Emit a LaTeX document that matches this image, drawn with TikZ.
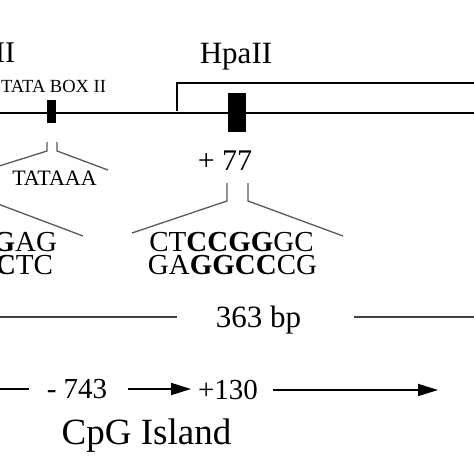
\documentclass[tikz,border=0pt]{standalone}
\usepackage{fontspec}
\setmainfont{Liberation Serif}
\usetikzlibrary{arrows.meta}
\begin{document}
\begin{tikzpicture}[x=1pt,y=-1pt,
  lbl/.style={inner sep=0pt,outer sep=0pt,text=black},
  mainline/.style={line width=2.7pt,black},
  brk/.style={line width=2pt,black},
  guide/.style={line width=1.3pt,black!65},
  scaleline/.style={line width=1.8pt,black!75},
  arr/.style={line width=1.8pt,black,-{Triangle[length=20pt,width=12pt]}},
  plainline/.style={line width=1.8pt,black}]
\useasboundingbox (0,0) rectangle (474,474);
\fill[white] (0,0) rectangle (474,474);
% top labels
\node[lbl,anchor=base east,font=\fontsize{30}{30}\selectfont] (ii) at (15,62) {II};
\node[lbl,anchor=base east,font=\fontsize{18.5}{18.5}\selectfont] (tatabox) at (106,92) {TATA BOX II};
\node[lbl,anchor=base,font=\fontsize{31}{31}\selectfont] (hpa) at (236,63) {HpaII};
% main line and boxes
\draw[mainline] (0,113) -- (474,113);
\fill[black] (47,100) rectangle (56,123);
\fill[black] (228,93) rectangle (246,132);
\draw[brk] (177,111) |- (476,83);
% TATA guides
\draw[guide] (47,142) -- (47,151) -- (-4,167);
\draw[guide] (57,142) -- (57,151) -- (108,170);
\node[lbl,anchor=base,font=\fontsize{22}{22}\selectfont] (tataaa) at (54.5,185) {TATAAA};
% HpaII guides
\node[lbl,anchor=base,font=\fontsize{30}{30}\selectfont] (p77) at (225,170) {+ 77};
\draw[guide] (227,183) -- (227,201) -- (132,233);
\draw[guide] (248,183) -- (248,201) -- (343,236);
\node[lbl,anchor=base,font=\fontsize{29}{29}\selectfont] (seq1) at (231.5,251) {CT\textbf{CCGG}GC};
\node[lbl,anchor=base,font=\fontsize{29}{29}\selectfont] (seq2) at (232.5,274) {GA\textbf{GGCC}CG};
% left partial site
\draw[guide] (-2,204) -- (83,236);
\node[lbl,anchor=base east,font=\fontsize{29}{29}\selectfont] (lseq1) at (57,251) {\textbf{G}AG};
\node[lbl,anchor=base east,font=\fontsize{29}{29}\selectfont] (lseq2) at (53,274) {\textbf{C}TC};
% 363 bp scale
\node[lbl,anchor=base,font=\fontsize{31}{31}\selectfont] (bp) at (258.5,327) {363 bp};
\coordinate (s1a) at (-2,317);
\coordinate (s1b) at (177,317);
\coordinate (s2a) at (354,317);
\coordinate (s2b) at (476,317);
\draw[scaleline] (s1a) -- (s1b);
\draw[scaleline] (s2a) -- (s2b);
% CpG island row
\node[lbl,anchor=base,font=\fontsize{29}{29}\selectfont] (m743) at (77,398) {- 743};
\node[lbl,anchor=base,font=\fontsize{29}{29}\selectfont] (p130) at (228,399) {+130};
\coordinate (l0) at (-2,389);
\coordinate (l1) at (29,389);
\coordinate (a1s) at (128,389);
\coordinate (a1e) at (191,389);
\coordinate (a2s) at (273,390);
\coordinate (a2e) at (438,390);
\draw[plainline] (l0) -- (l1);
\draw[arr] (a1s) -- (a1e);
\draw[arr] (a2s) -- (a2e);
\node[lbl,anchor=base,font=\fontsize{37}{37}\selectfont] (cpg) at (146.5,444.5) {CpG Island};
\end{tikzpicture}
\end{document}
